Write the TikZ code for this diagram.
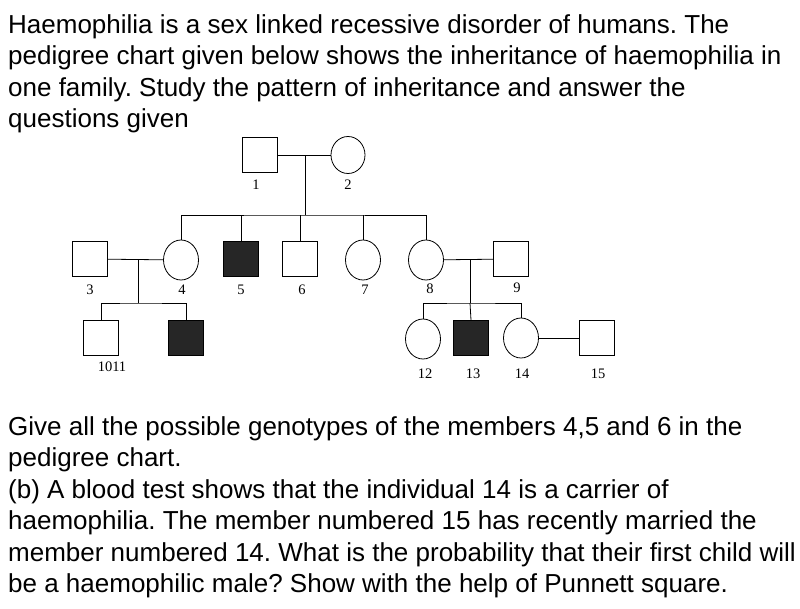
\documentclass[tikz,border=0pt]{standalone}
\usepackage{fontspec}
\usetikzlibrary{shapes.geometric}
\setmainfont{Liberation Sans}
\newfontfamily\serifl{Liberation Serif}
\frenchspacing
\begin{document}
\begin{tikzpicture}[x=1pt,y=-1pt,
  txt/.style={anchor=base west,inner sep=0pt,font=\fontsize{26}{28}\selectfont},
  lab/.style={inner sep=0pt,font=\serifl\fontsize{14.5}{16}\selectfont},
  male/.style={draw,line width=0.8pt,minimum size=35pt,inner sep=0pt},
  aff/.style={male,fill=black!85},
  fem/.style={draw,line width=0.8pt,ellipse,minimum width=35pt,minimum height=40pt,inner sep=0pt},
  ln/.style={line width=0.8pt}]
\useasboundingbox (0,0) rectangle (800,608);
\node[txt] (t1) at (8,33) {Haemophilia is a sex linked recessive disorder of humans. The};
\node[txt] (t2) at (8,64.5) {pedigree chart given below shows the inheritance of haemophilia in};
\node[txt] (t3) at (8,96) {one family. Study the pattern of inheritance and answer the};
\node[txt] (t4) at (8,127.5) {questions given};
\node[txt] (b1) at (8,435) {Give all the possible genotypes of the members 4,5 and 6 in the};
\node[txt] (b2) at (8,466.5) {pedigree chart.};
\node[txt] (b3) at (8,498) {(b) A blood test shows that the individual 14 is a carrier of};
\node[txt] (b4) at (8,529.5) {haemophilia. The member numbered 15 has recently married the};
\node[txt] (b5) at (8,561) {member numbered 14. What is the probability that their first child will};
\node[txt] (b6) at (8,592.5) {be a haemophilic male? Show with the help of Punnett square.};
% individuals
\node[male] (p1) at (260,155) {};
\node[fem,minimum width=34pt,minimum height=37pt] (p2) at (348,155) {};
\node[male] (p3) at (90,259) {};
\node[fem] (p4) at (181,260) {};
\node[aff] (p5) at (241,259) {};
\node[male] (p6) at (300,259) {};
\node[fem] (p7) at (363,260) {};
\node[fem] (p8) at (426,260) {};
\node[male] (p9) at (511,259) {};
\node[male] (p10) at (101,338) {};
\node[aff] (p11) at (186,338) {};
\node[fem] (p12) at (423,339) {};
\node[aff] (p13) at (471,338) {};
\node[fem] (p14) at (521,338) {};
\node[male] (p15) at (597,338) {};
% labels
\node[lab] (l1) at (256,185) {1};
\node[lab] (l2) at (348,185) {2};
\node[lab] (l3) at (90,290) {3};
\node[lab] (l4) at (182,290) {4};
\node[lab] (l5) at (241,290) {5};
\node[lab] (l6) at (302,290) {6};
\node[lab] (l7) at (365,290) {7};
\node[lab] (l8) at (430,289) {8};
\node[lab] (l9) at (517,288) {9};
\node[lab] (l10) at (112,367) {1011};
\node[lab] (l12) at (425,374) {12};
\node[lab] (l13) at (473,374) {13};
\node[lab] (l14) at (522,374) {14};
\node[lab] (l15) at (598,374) {15};
% lines
\coordinate (m12) at (305,155);
\coordinate (s1) at (305,215);
\draw[ln] (p1) -- (p2);
\draw[ln] (m12) -- (s1);
\draw[ln] (p4.north) |- (s1) -| (p8.north);
\draw[ln] (p5.north) -- (p5.north |- s1);
\draw[ln] (p6.north) -- (p6.north |- s1);
\draw[ln] (p7.north) -- (p7.north |- s1);
\coordinate (m34) at (138,259);
\coordinate (s2) at (138,303);
\draw[ln] (p3) -- (p4);
\draw[ln] (m34) -- (s2);
\draw[ln] (p10.north) |- (s2) -| (p11.north);
\coordinate (m89) at (470,259);
\coordinate (s3) at (470,303);
\draw[ln] (p8) -- (p9);
\draw[ln] (m89) -- (s3);
\draw[ln] (p12.north) |- (s3) -| (p14.north);
\draw[ln] (s3) -- (p13.north);
\draw[ln] (p14) -- (p15);
\end{tikzpicture}
\end{document}
